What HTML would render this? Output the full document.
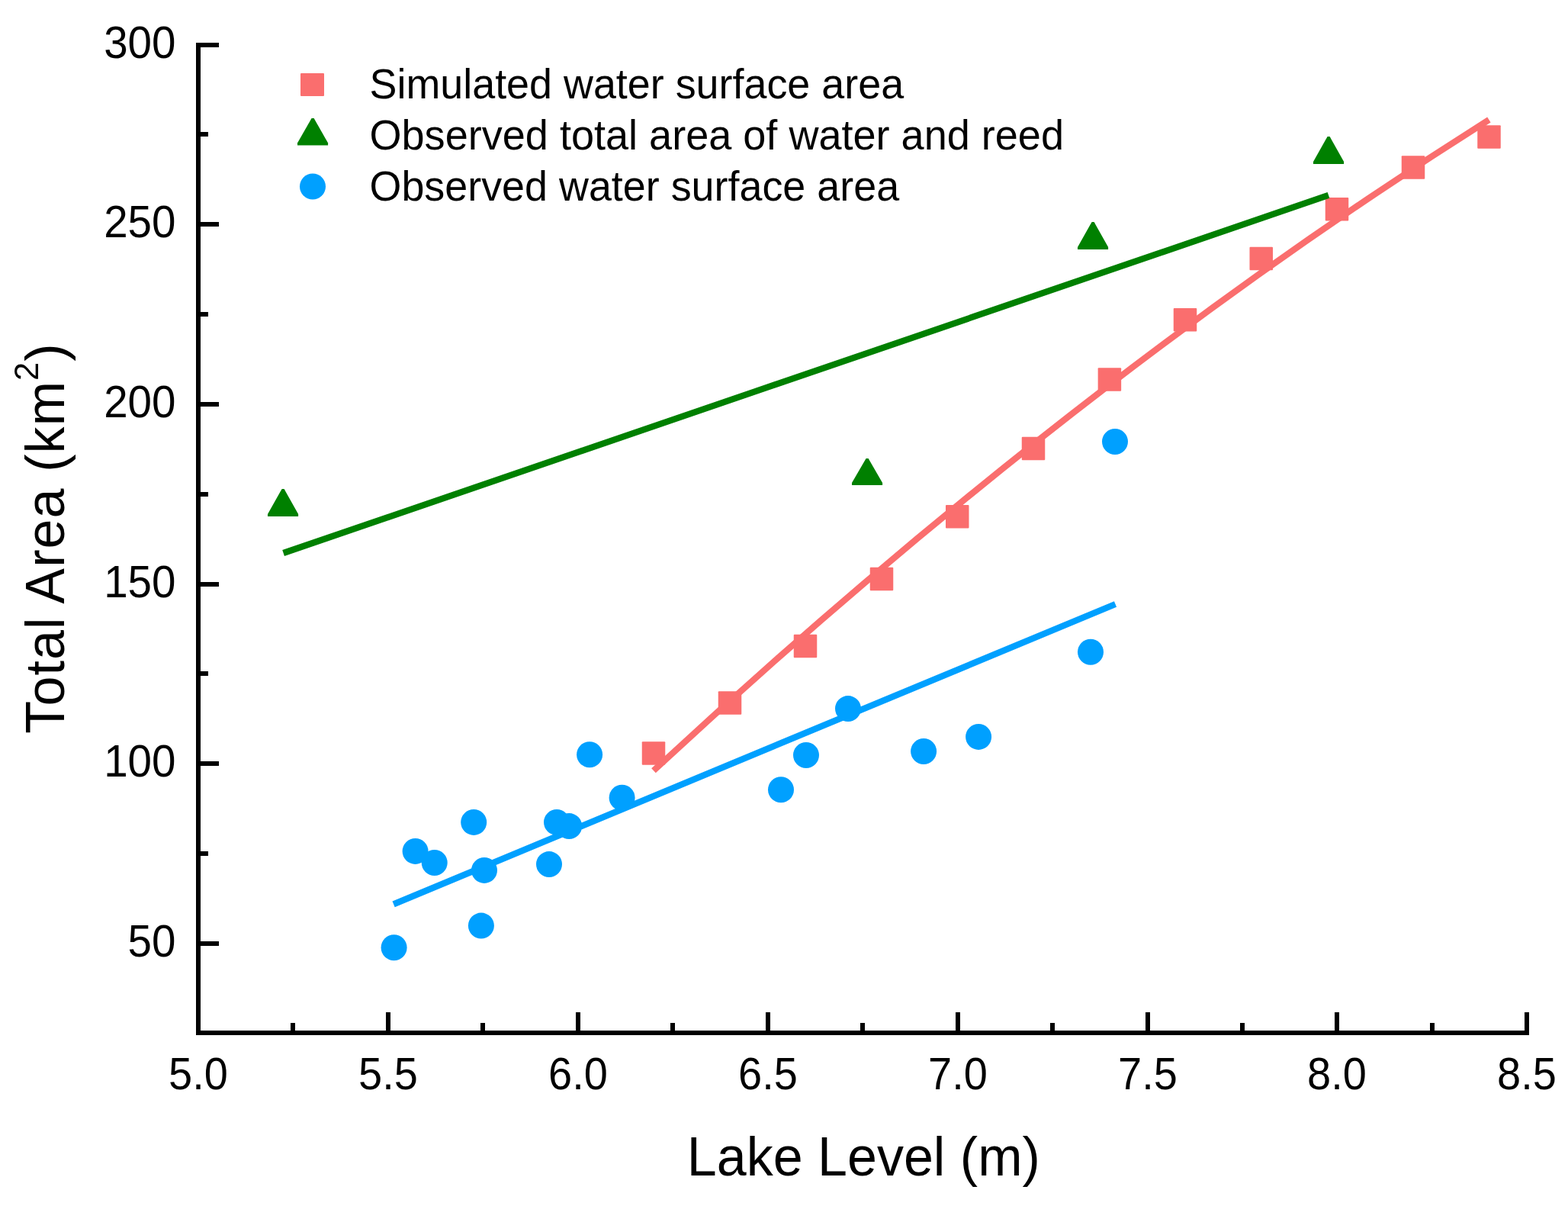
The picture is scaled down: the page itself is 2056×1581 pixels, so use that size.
<!DOCTYPE html>
<html lang="en">
<head>
<meta charset="utf-8">
<title>Total Area vs Lake Level</title>
<style>
html,body{margin:0;padding:0;background:#fff;}
body{width:2056px;height:1581px;overflow:hidden;}
svg{display:block;}
text{font-family:"Liberation Sans", Arial, Helvetica, sans-serif;fill:#000;}
</style>
</head>
<body>
<svg width="2056" height="1581" viewBox="0 0 2056 1581">
<rect x="0" y="0" width="2056" height="1581" fill="#ffffff"/>
<path d="M857.00 1010.24 Q1404.70 502.70 1952.40 157.03" fill="none" stroke="#fa6e6e" stroke-width="8.3"/>
<g fill="#fa6e6e">
<rect x="841.75" y="972.15" width="30.5" height="30.5" rx="1"/>
<rect x="941.75" y="906.15" width="30.5" height="30.5" rx="1"/>
<rect x="1040.75" y="831.75" width="30.5" height="30.5" rx="1"/>
<rect x="1140.75" y="743.65" width="30.5" height="30.5" rx="1"/>
<rect x="1240.00" y="662.00" width="30.5" height="30.5" rx="1"/>
<rect x="1339.75" y="572.75" width="30.5" height="30.5" rx="1"/>
<rect x="1439.65" y="482.25" width="30.5" height="30.5" rx="1"/>
<rect x="1538.75" y="404.00" width="30.5" height="30.5" rx="1"/>
<rect x="1638.50" y="323.75" width="30.5" height="30.5" rx="1"/>
<rect x="1737.75" y="258.95" width="30.5" height="30.5" rx="1"/>
<rect x="1837.75" y="204.15" width="30.5" height="30.5" rx="1"/>
<rect x="1937.25" y="164.25" width="30.5" height="30.5" rx="1"/>
</g>
<line x1="371.6" y1="725.0" x2="1742.0" y2="255.9" stroke="#008000" stroke-width="8.3"/>
<g fill="#008000">
<polygon points="369.6,641.0 372.6,641.0 391.1,674.0 391.1,677.0 351.0,677.0 351.0,674.0"/>
<polygon points="1135.6,601.0 1138.6,601.0 1157.1,633.0 1157.1,636.0 1117.0,636.0 1117.0,633.0"/>
<polygon points="1431.6,291.0 1434.6,291.0 1453.1,324.0 1453.1,327.0 1413.0,327.0 1413.0,324.0"/>
<polygon points="1740.6,179.0 1743.6,179.0 1762.1,212.0 1762.1,215.0 1722.0,215.0 1722.0,212.0"/>
</g>
<line x1="516.1" y1="1185.4" x2="1462.5" y2="792.0" stroke="#00a0ff" stroke-width="8.3"/>
<g fill="#00a0ff">
<circle cx="516.6" cy="1242.2" r="17.0"/>
<circle cx="544.6" cy="1115.9" r="17.0"/>
<circle cx="569.7" cy="1131.0" r="17.0"/>
<circle cx="621.2" cy="1077.9" r="17.0"/>
<circle cx="635.0" cy="1140.9" r="17.0"/>
<circle cx="630.9" cy="1213.6" r="17.0"/>
<circle cx="720.0" cy="1133.1" r="17.0"/>
<circle cx="730.0" cy="1077.9" r="17.0"/>
<circle cx="746.2" cy="1083.1" r="17.0"/>
<circle cx="773.1" cy="989.2" r="17.0"/>
<circle cx="815.6" cy="1045.8" r="17.0"/>
<circle cx="1024.0" cy="1035.3" r="17.0"/>
<circle cx="1057.0" cy="990.0" r="17.0"/>
<circle cx="1112.0" cy="929.1" r="17.0"/>
<circle cx="1211.1" cy="985.0" r="17.0"/>
<circle cx="1283.1" cy="965.9" r="17.0"/>
<circle cx="1430.0" cy="854.8" r="17.0"/>
<circle cx="1462.0" cy="579.0" r="17.0"/>
</g>
<g fill="#000000" shape-rendering="crispEdges">
<rect x="257" y="56" width="6" height="1301"/>
<rect x="257" y="1351" width="1748" height="6"/>
<rect x="263" y="1234" width="24" height="6"/>
<rect x="263" y="1116" width="10" height="6"/>
<rect x="263" y="998" width="24" height="6"/>
<rect x="263" y="880" width="10" height="6"/>
<rect x="263" y="763" width="24" height="6"/>
<rect x="263" y="645" width="10" height="6"/>
<rect x="263" y="527" width="24" height="6"/>
<rect x="263" y="409" width="10" height="6"/>
<rect x="263" y="291" width="24" height="6"/>
<rect x="263" y="173" width="10" height="6"/>
<rect x="263" y="56" width="24" height="6"/>
<rect x="257" y="1327" width="6" height="24"/>
<rect x="381" y="1341" width="6" height="10"/>
<rect x="506" y="1327" width="6" height="24"/>
<rect x="630" y="1341" width="6" height="10"/>
<rect x="755" y="1327" width="6" height="24"/>
<rect x="879" y="1341" width="6" height="10"/>
<rect x="1004" y="1327" width="6" height="24"/>
<rect x="1128" y="1341" width="6" height="10"/>
<rect x="1253" y="1327" width="6" height="24"/>
<rect x="1377" y="1341" width="6" height="10"/>
<rect x="1502" y="1327" width="6" height="24"/>
<rect x="1626" y="1341" width="6" height="10"/>
<rect x="1750" y="1327" width="6" height="24"/>
<rect x="1875" y="1341" width="6" height="10"/>
<rect x="1999" y="1327" width="6" height="24"/>
</g>
<g id="yticks">
<text transform="translate(230.50 1253.60) scale(0.9920 1.0300)" font-size="57.00" text-anchor="end">50</text>
<text transform="translate(230.50 1017.60) scale(0.9920 1.0300)" font-size="57.00" text-anchor="end">100</text>
<text transform="translate(230.50 782.60) scale(0.9920 1.0300)" font-size="57.00" text-anchor="end">150</text>
<text transform="translate(230.50 546.60) scale(0.9920 1.0300)" font-size="57.00" text-anchor="end">200</text>
<text transform="translate(230.50 310.60) scale(0.9920 1.0300)" font-size="57.00" text-anchor="end">250</text>
<text transform="translate(230.50 75.60) scale(0.9920 1.0300)" font-size="57.00" text-anchor="end">300</text>
</g>
<g id="xticks">
<text transform="translate(260.00 1427.60) scale(0.9820 1.0300)" font-size="57.00" text-anchor="middle">5.0</text>
<text transform="translate(509.00 1427.60) scale(0.9820 1.0300)" font-size="57.00" text-anchor="middle">5.5</text>
<text transform="translate(758.00 1427.60) scale(0.9820 1.0300)" font-size="57.00" text-anchor="middle">6.0</text>
<text transform="translate(1007.00 1427.60) scale(0.9820 1.0300)" font-size="57.00" text-anchor="middle">6.5</text>
<text transform="translate(1256.00 1427.60) scale(0.9820 1.0300)" font-size="57.00" text-anchor="middle">7.0</text>
<text transform="translate(1505.00 1427.60) scale(0.9820 1.0300)" font-size="57.00" text-anchor="middle">7.5</text>
<text transform="translate(1753.00 1427.60) scale(0.9820 1.0300)" font-size="57.00" text-anchor="middle">8.0</text>
<text transform="translate(2002.00 1427.60) scale(0.9820 1.0300)" font-size="57.00" text-anchor="middle">8.5</text>
</g>
<g id="legend">
<rect x="394" y="96" width="31" height="30" rx="1" fill="#fa6e6e"/>
<g fill="#008000"><polygon points="408.6,155.0 411.6,155.0 430.1,187.5 430.1,190.5 390.0,190.5 390.0,187.5"/></g>
<circle cx="410" cy="244.5" r="17.0" fill="#00a0ff"/>
<text transform="translate(484.50 128.60) scale(0.9621 1.0000)" font-size="56.00" text-anchor="start">Simulated water surface area</text>
<text transform="translate(484.50 195.60) scale(0.9655 1.0000)" font-size="56.00" text-anchor="start">Observed total area of water and reed</text>
<text transform="translate(484.50 262.60) scale(0.9621 1.0000)" font-size="56.00" text-anchor="start">Observed water surface area</text>
</g>
<g id="titles">
<text transform="translate(1132.30 1540.60) scale(1.0000 1.0400)" font-size="70.00" text-anchor="middle">Lake Level (m)</text>
<text transform="translate(83.60 705.50) rotate(-90) scale(1.0000 1.0400)" font-size="70.00" text-anchor="middle" letter-spacing="1.10">Total Area (km<tspan font-size="43.40" dy="-32.00">2</tspan><tspan dy="32.00">)</tspan></text>
</g>
</svg>
</body>
</html>
